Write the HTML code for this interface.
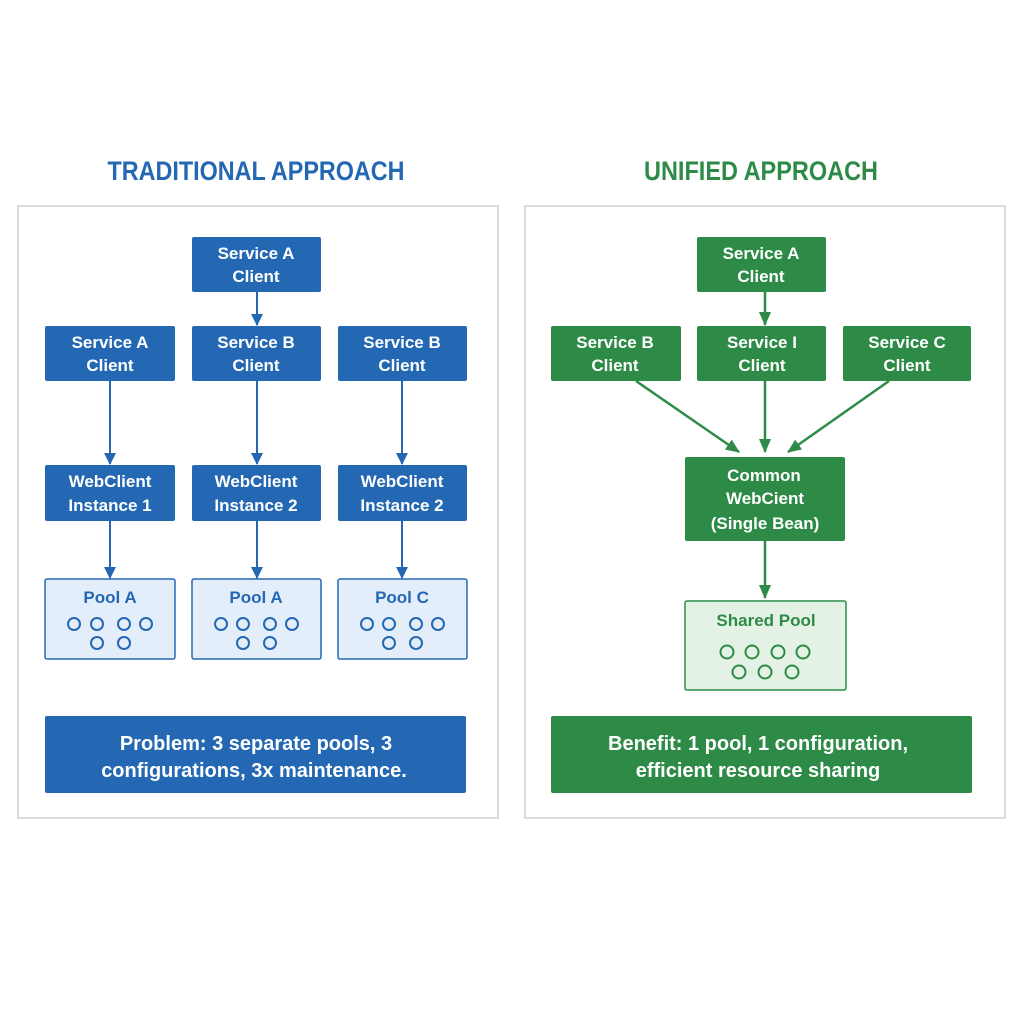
<!DOCTYPE html>
<html><head><meta charset="utf-8"><style>
html,body{margin:0;padding:0;background:#fff;}
svg{display:block;}
text{font-family:"Liberation Sans",sans-serif;font-weight:bold;}
</style></head><body>
<svg width="1024" height="1024" viewBox="0 0 1024 1024" xmlns="http://www.w3.org/2000/svg">
<defs>
<marker id="ab" markerWidth="12" markerHeight="12" refX="11" refY="6" orient="auto" markerUnits="userSpaceOnUse"><path d="M0,0 L12,6 L0,12 z" fill="#2468b4"/></marker>
<marker id="ag" markerWidth="14" markerHeight="12" refX="13" refY="6" orient="auto" markerUnits="userSpaceOnUse"><path d="M0,0 L14,6 L0,12 z" fill="#2e8b47"/></marker>
</defs>
<rect width="1024" height="1024" fill="#fff"/>
<text x="256" y="180" text-anchor="middle" font-size="27" fill="#2468b4" textLength="297" lengthAdjust="spacingAndGlyphs">TRADITIONAL APPROACH</text>
<text x="761" y="180" text-anchor="middle" font-size="27" fill="#2e8b47" textLength="234" lengthAdjust="spacingAndGlyphs">UNIFIED APPROACH</text>
<rect x="18" y="206" width="480" height="612" fill="#fff" stroke="#cfcfcf" stroke-width="1.5"/>
<rect x="525" y="206" width="480" height="612" fill="#fff" stroke="#cfcfcf" stroke-width="1.5"/>

<g fill="#2468b4">
<rect x="192" y="237" width="129" height="55" rx="2"/>
<rect x="45" y="326" width="130" height="55" rx="2"/>
<rect x="192" y="326" width="129" height="55" rx="2"/>
<rect x="338" y="326" width="129" height="55" rx="2"/>
<rect x="45" y="465" width="130" height="56" rx="2"/>
<rect x="192" y="465" width="129" height="56" rx="2"/>
<rect x="338" y="465" width="129" height="56" rx="2"/>
<rect x="45" y="716" width="421" height="77" rx="2"/>
</g>
<g fill="#e3eefa" stroke="#2468b4" stroke-width="1.5">
<rect x="45" y="579" width="130" height="80" rx="2"/>
<rect x="192" y="579" width="129" height="80" rx="2"/>
<rect x="338" y="579" width="129" height="80" rx="2"/>
</g>
<g fill="#fff" font-size="17" text-anchor="middle">
<text x="256" y="259">Service A</text><text x="256" y="282">Client</text>
<text x="110" y="348">Service A</text><text x="110" y="371">Client</text>
<text x="256" y="348">Service B</text><text x="256" y="371">Client</text>
<text x="402" y="348">Service B</text><text x="402" y="371">Client</text>
<text x="110" y="487">WebClient</text><text x="110" y="511">Instance 1</text>
<text x="256" y="487">WebClient</text><text x="256" y="511">Instance 2</text>
<text x="402" y="487">WebClient</text><text x="402" y="511">Instance 2</text>
<text x="256" y="750" font-size="20">Problem: 3 separate pools, 3</text>
<text x="254" y="777" font-size="20">configurations, 3x maintenance.</text>
</g>
<g fill="#2468b4" font-size="17" text-anchor="middle">
<text x="110" y="603">Pool A</text><text x="256" y="603">Pool A</text><text x="402" y="603">Pool C</text>
</g>
<g fill="none" stroke="#2468b4" stroke-width="2">
<circle cx="74" cy="624" r="6"/><circle cx="97" cy="624" r="6"/><circle cx="124" cy="624" r="6"/><circle cx="146" cy="624" r="6"/><circle cx="97" cy="643" r="6"/><circle cx="124" cy="643" r="6"/>
<circle cx="221" cy="624" r="6"/><circle cx="243" cy="624" r="6"/><circle cx="270" cy="624" r="6"/><circle cx="292" cy="624" r="6"/><circle cx="243" cy="643" r="6"/><circle cx="270" cy="643" r="6"/>
<circle cx="367" cy="624" r="6"/><circle cx="389" cy="624" r="6"/><circle cx="416" cy="624" r="6"/><circle cx="438" cy="624" r="6"/><circle cx="389" cy="643" r="6"/><circle cx="416" cy="643" r="6"/>
</g>
<g stroke="#2468b4" stroke-width="2" marker-end="url(#ab)">
<line x1="257" y1="292" x2="257" y2="325"/>
<line x1="110" y1="381" x2="110" y2="464"/><line x1="257" y1="381" x2="257" y2="464"/><line x1="402" y1="381" x2="402" y2="464"/>
<line x1="110" y1="521" x2="110" y2="578"/><line x1="257" y1="521" x2="257" y2="578"/><line x1="402" y1="521" x2="402" y2="578"/>
</g>

<g fill="#2e8b47">
<rect x="697" y="237" width="129" height="55" rx="2"/>
<rect x="551" y="326" width="130" height="55" rx="2"/>
<rect x="697" y="326" width="129" height="55" rx="2"/>
<rect x="843" y="326" width="128" height="55" rx="2"/>
<rect x="685" y="457" width="160" height="84" rx="2"/>
<rect x="551" y="716" width="421" height="77" rx="2"/>
</g>
<rect x="685" y="601" width="161" height="89" rx="2" fill="#e3f2e4" stroke="#2e8b47" stroke-width="1.5"/>
<g fill="#fff" font-size="17" text-anchor="middle">
<text x="761" y="259">Service A</text><text x="761" y="282">Client</text>
<text x="615" y="348">Service B</text><text x="615" y="371">Client</text>
<text x="762" y="348">Service I</text><text x="762" y="371">Client</text>
<text x="907" y="348">Service C</text><text x="907" y="371">Client</text>
<text x="764" y="481">Common</text><text x="765" y="504">WebCient</text><text x="765" y="529">(Single Bean)</text>
<text x="758" y="750" font-size="20">Benefit: 1 pool, 1 configuration,</text>
<text x="758" y="777" font-size="20">efficient resource sharing</text>
</g>
<text x="766" y="626" fill="#2e8b47" font-size="17" text-anchor="middle">Shared Pool</text>
<g fill="none" stroke="#2e8b47" stroke-width="2">
<circle cx="727" cy="652" r="6.5"/><circle cx="752" cy="652" r="6.5"/><circle cx="778" cy="652" r="6.5"/><circle cx="803" cy="652" r="6.5"/>
<circle cx="739" cy="672" r="6.5"/><circle cx="765" cy="672" r="6.5"/><circle cx="792" cy="672" r="6.5"/>
</g>
<g stroke="#2e8b47" stroke-width="2.5" marker-end="url(#ag)">
<line x1="765" y1="292" x2="765" y2="325"/>
<line x1="636" y1="381" x2="739" y2="452"/>
<line x1="765" y1="381" x2="765" y2="452"/>
<line x1="889" y1="381" x2="788" y2="452"/>
<line x1="765" y1="541" x2="765" y2="598"/>
</g>
</svg>
</body></html>
